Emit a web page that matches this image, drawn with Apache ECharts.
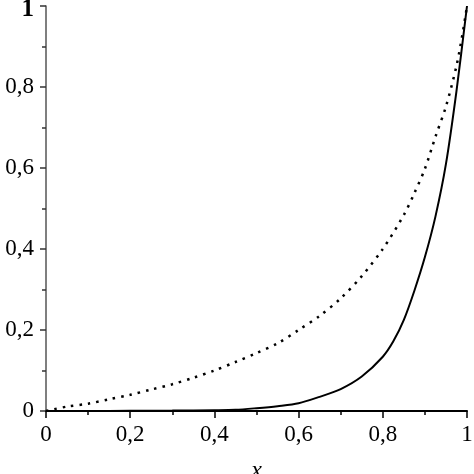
<!DOCTYPE html>
<html>
<head>
<meta charset="utf-8">
<script src="https://cdn.jsdelivr.net/npm/echarts@6/dist/echarts.min.js"></script>
<style>html,body{margin:0;padding:0;background:#fff;}#c{width:474px;height:474px;}</style>
</head>
<body>
<div id="c"></div>
<script>
// Dotted curve samples
const dottedX = [0, 0.05, 0.1, 0.15, 0.2, 0.25, 0.3, 0.35, 0.4, 0.45, 0.5, 0.55, 0.6, 0.65, 0.7, 0.75, 0.8, 0.85, 0.875, 0.9, 0.925, 0.95, 0.975, 0.99, 1];
const dottedY = [0, 0.011, 0.018, 0.029, 0.040, 0.053, 0.066, 0.082, 0.100, 0.121, 0.143, 0.167, 0.200, 0.235, 0.278, 0.333, 0.400, 0.484, 0.538, 0.598, 0.677, 0.752, 0.852, 0.935, 1.0];
// Solid curve samples
const solidX = [0, 0.1, 0.2, 0.3, 0.4, 0.45, 0.5, 0.55, 0.6, 0.65, 0.7, 0.75, 0.8, 0.825, 0.85, 0.875, 0.9, 0.925, 0.95, 0.975, 1];
const solidY = [0, 0.0, 0.0005, 0.001, 0.002, 0.003, 0.007, 0.012, 0.019, 0.035, 0.054, 0.085, 0.134, 0.172, 0.225, 0.297, 0.38, 0.48, 0.61, 0.79, 1.0];
// Axis ticks
const xTicks = [0, 0.2, 0.4, 0.6, 0.8, 1];
const yTicks = [0, 0.2, 0.4, 0.6, 0.8, 1];

const pair = (xs, ys) => xs.map((x, i) => [x, ys[i]]);
const fmt = v => String(+v.toFixed(1)).replace('.', ',');
const font = 'Times New Roman, Liberation Serif, serif';

const chart = echarts.init(document.getElementById('c'), null, {renderer: 'canvas'});
chart.setOption({
  animation: false,
  backgroundColor: '#fff',
  grid: {left: 46, right: 7, top: 6, bottom: 63, containLabel: false, outerBoundsMode: 'none'},
  xAxis: {
    type: 'value', min: xTicks[0], max: xTicks[xTicks.length - 1], interval: 0.2,
    name: 'x', nameLocation: 'middle', nameGap: 48,
    nameTextStyle: {fontFamily: font, fontStyle: 'italic', fontSize: 24, color: '#000'},
    axisLine: {show: true, onZero: false, lineStyle: {color: '#000', width: 2}},
    axisTick: {show: true, inside: false, length: 7, lineStyle: {color: '#000', width: 1.5}},
    minorTick: {show: true, splitNumber: 2, length: 4, lineStyle: {color: '#000', width: 1.5}},
    splitLine: {show: false},
    axisLabel: {fontFamily: font, fontSize: 23, color: '#000', margin: 12, formatter: fmt, showMinLabel: true, showMaxLabel: true}
  },
  yAxis: {
    type: 'value', min: yTicks[0], max: yTicks[yTicks.length - 1], interval: 0.2,
    axisLine: {show: true, onZero: false, lineStyle: {color: '#555', width: 1.5}},
    axisTick: {show: true, inside: false, length: 6, lineStyle: {color: '#333', width: 1.5}},
    minorTick: {show: true, splitNumber: 2, length: 4, lineStyle: {color: '#333', width: 1.5}},
    splitLine: {show: false},
    axisLabel: {
      fontFamily: font, fontSize: 23, color: '#000', margin: 12,
      showMinLabel: true, showMaxLabel: true,
      formatter: v => v === 1 ? '{b|1}' : fmt(v),
      rich: {b: {fontFamily: font, fontSize: 25, fontWeight: 'bold', color: '#000', padding: [8, 0, 0, 0]}}
    }
  },
  series: [
    {
      type: 'line', data: pair(dottedX, dottedY), smooth: 0.3, symbol: 'none', clip: false,
      lineStyle: {color: '#000', width: 2.5, type: [2.5, 6]}
    },
    {
      type: 'line', data: pair(solidX, solidY), smooth: 0.3, symbol: 'none', clip: false,
      lineStyle: {color: '#000', width: 2}
    }
  ]
});
</script>
</body>
</html>
